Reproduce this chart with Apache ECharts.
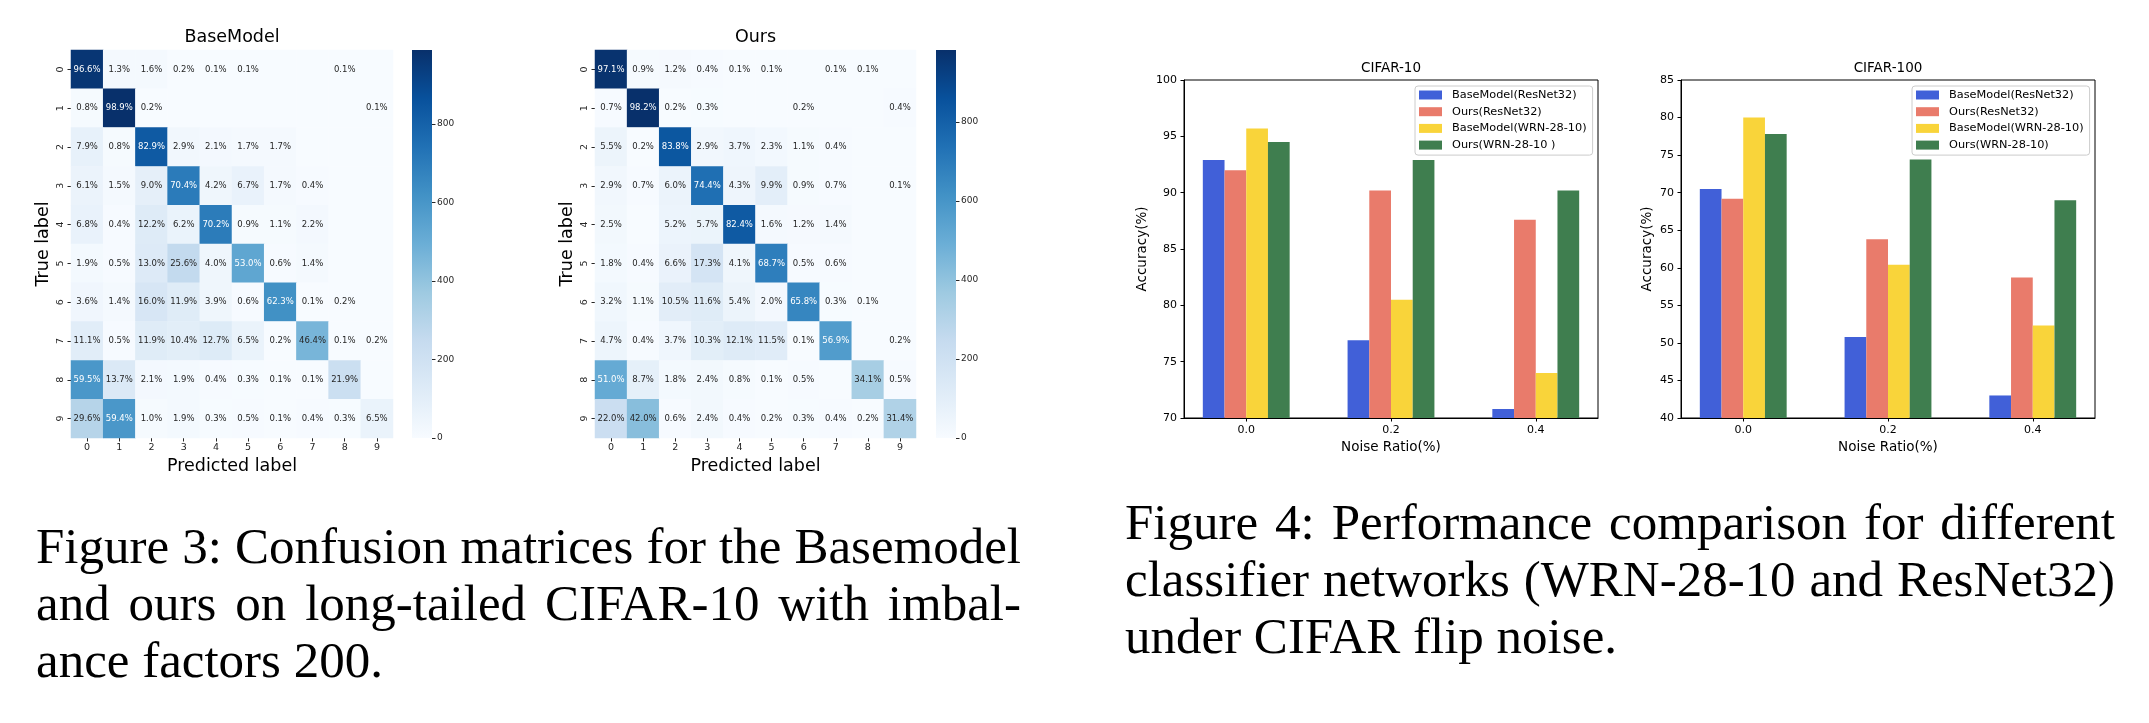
<!DOCTYPE html>
<html><head><meta charset="utf-8">
<script src="https://cdn.jsdelivr.net/npm/echarts@6/dist/echarts.min.js"></script>
<style>html,body{margin:0;padding:0;background:#fff}#c{width:2149px;height:723px}</style>
</head><body><div id="c"></div>
<script>
// ---------------- data ----------------
const classLabels = ['0','1','2','3','4','5','6','7','8','9'];
// confusion matrices (percent per true-label row); null = empty cell
const baseModelPct = [
  [96.6, 1.3, 1.6, 0.2, 0.1, 0.1, null, null, 0.1, null],
  [0.8, 98.9, 0.2, null, null, null, null, null, null, 0.1],
  [7.9, 0.8, 82.9, 2.9, 2.1, 1.7, 1.7, null, null, null],
  [6.1, 1.5, 9.0, 70.4, 4.2, 6.7, 1.7, 0.4, null, null],
  [6.8, 0.4, 12.2, 6.2, 70.2, 0.9, 1.1, 2.2, null, null],
  [1.9, 0.5, 13.0, 25.6, 4.0, 53.0, 0.6, 1.4, null, null],
  [3.6, 1.4, 16.0, 11.9, 3.9, 0.6, 62.3, 0.1, 0.2, null],
  [11.1, 0.5, 11.9, 10.4, 12.7, 6.5, 0.2, 46.4, 0.1, 0.2],
  [59.5, 13.7, 2.1, 1.9, 0.4, 0.3, 0.1, 0.1, 21.9, null],
  [29.6, 59.4, 1.0, 1.9, 0.3, 0.5, 0.1, 0.4, 0.3, 6.5]
];
const oursPct = [
  [97.1, 0.9, 1.2, 0.4, 0.1, 0.1, null, 0.1, 0.1, null],
  [0.7, 98.2, 0.2, 0.3, null, null, 0.2, null, null, 0.4],
  [5.5, 0.2, 83.8, 2.9, 3.7, 2.3, 1.1, 0.4, null, null],
  [2.9, 0.7, 6.0, 74.4, 4.3, 9.9, 0.9, 0.7, null, 0.1],
  [2.5, null, 5.2, 5.7, 82.4, 1.6, 1.2, 1.4, null, null],
  [1.8, 0.4, 6.6, 17.3, 4.1, 68.7, 0.5, 0.6, null, null],
  [3.2, 1.1, 10.5, 11.6, 5.4, 2.0, 65.8, 0.3, 0.1, null],
  [4.7, 0.4, 3.7, 10.3, 12.1, 11.5, 0.1, 56.9, null, 0.2],
  [51.0, 8.7, 1.8, 2.4, 0.8, 0.1, 0.5, null, 34.1, 0.5],
  [22.0, 42.0, 0.6, 2.4, 0.4, 0.2, 0.3, 0.4, 0.2, 31.4]
];
const samplesPerClass = 1000;
const colorbarTicks = [0, 200, 400, 600, 800];

const noiseRatios = [0.0, 0.2, 0.4];
const cifar10Names = ['BaseModel(ResNet32)', 'Ours(ResNet32)', 'BaseModel(WRN-28-10)', 'Ours(WRN-28-10 )'];
const cifar100Names = ['BaseModel(ResNet32)', 'Ours(ResNet32)', 'BaseModel(WRN-28-10)', 'Ours(WRN-28-10)'];
const cifar10BaseResNet = [92.9, 76.9, 70.8];
const cifar10OursResNet = [92.0, 90.2, 87.6];
const cifar10BaseWRN = [95.7, 80.5, 74.0];
const cifar10OursWRN = [94.5, 92.9, 90.2];
const cifar100BaseResNet = [70.5, 50.8, 43.0];
const cifar100OursResNet = [69.2, 63.8, 58.7];
const cifar100BaseWRN = [80.0, 60.4, 52.3];
const cifar100OursWRN = [77.8, 74.4, 69.0];

const caption3Lines = ['Figure 3: Confusion matrices for the Basemodel', 'and ours on long-tailed CIFAR-10 with imbal-', 'ance factors 200.'];
const caption4Lines = ['Figure 4: Performance comparison for different', 'classifier networks (WRN-28-10 and ResNet32)', 'under CIFAR flip noise.'];

// ---------------- styles ----------------
const FONT = 'DejaVu Sans';
const SERIF = 'Liberation Serif';
const blues = ['#f7fbff','#deebf7','#c6dbef','#9ecae1','#6baed6','#4292c6','#2171b5','#08519c','#08306b'];
const barColors = ['#4160d8', '#e97b6b', '#f9d43a', '#3f7e4f'];

function hex2rgb(h){ return [1,3,5].map(i => parseInt(h.substr(i,2),16)); }
function cmap(t){
  t = Math.max(0, Math.min(1, t));
  const s = t * (blues.length - 1);
  const i = Math.min(Math.floor(s), blues.length - 2);
  const f = s - i;
  const a = hex2rgb(blues[i]), b = hex2rgb(blues[i+1]);
  return a.map((v,k) => v + (b[k]-v)*f);
}
function lum(rgb){
  const c = rgb.map(v => { v /= 255; return v <= 0.03928 ? v/12.92 : Math.pow((v+0.055)/1.055, 2.4); });
  return 0.2126*c[0] + 0.7152*c[1] + 0.0722*c[2];
}
function counts(pct){ return pct.map(row => row.map(p => p == null ? 0 : Math.round(p * samplesPerClass / 100))); }
function heatData(pct){
  const cnt = counts(pct);
  const vmax = Math.max(...cnt.flat());
  const out = [];
  cnt.forEach((row, r) => row.forEach((v, c) => {
    const l = lum(cmap(v / vmax));
    out.push({ value: [c, r, v], label: { color: l < 0.408 ? '#ffffff' : '#262626' } });
  }));
  return { data: out, vmax };
}
const heatBase = heatData(baseModelPct);
const heatOurs = heatData(oursPct);

const heatGrids = [
  { left: 71, top: 50, width: 322, height: 388 },
  { left: 595, top: 50, width: 321, height: 388 }
];
const cbarGrids = [
  { left: 412, top: 50, width: 20, height: 388 },
  { left: 936, top: 50, width: 20, height: 388 }
];
const barGrids = [
  { left: 1184, top: 80, width: 414, height: 338 },
  { left: 1681, top: 80, width: 414, height: 338 }
];
const X_MIN = -0.086, X_MAX = 0.486, BAR_UNIT = 0.03;

const grids = [];
const xAxes = [];
const yAxes = [];
const series = [];
const visualMaps = [];
const titles = [];

function addHeat(idx, pct, heat, title){
  const gH = grids.length; grids.push(Object.assign({}, heatGrids[idx]));
  const gC = grids.length; grids.push(Object.assign({}, cbarGrids[idx]));
  const xa = xAxes.length;
  xAxes.push({
    gridIndex: gH, type: 'category', data: classLabels, position: 'bottom',
    axisLine: { show: false, onZero: false },
    axisTick: { show: true, alignWithLabel: true, length: 3.5, lineStyle: { color: '#262626', width: 1 } },
    axisLabel: { fontSize: 9.5, color: '#262626', margin: 5, fontFamily: FONT },
    splitLine: { show: false },
    name: 'Predicted label', nameLocation: 'middle', nameGap: 16,
    nameTextStyle: { fontSize: 17.5, color: '#000', fontFamily: FONT }
  });
  const xc = xAxes.length;
  xAxes.push({ gridIndex: gC, type: 'value', show: false, min: 0, max: 1,
    axisLine: { show: false }, axisTick: { show: false }, axisLabel: { show: false }, splitLine: { show: false } });
  const ya = yAxes.length;
  yAxes.push({
    gridIndex: gH, type: 'category', data: classLabels, inverse: true,
    axisLine: { show: false, onZero: false },
    axisTick: { show: true, alignWithLabel: true, length: 3.5, lineStyle: { color: '#262626', width: 1 } },
    axisLabel: { fontSize: 9.5, color: '#262626', margin: 5, rotate: 90, fontFamily: FONT },
    splitLine: { show: false },
    name: 'True label', nameLocation: 'middle', nameGap: 19, nameRotate: 90,
    nameTextStyle: { fontSize: 17.5, color: '#000', fontFamily: FONT }
  });
  const yc = yAxes.length;
  yAxes.push({
    gridIndex: gC, type: 'value', position: 'right', min: 0, max: heat.vmax,
    axisLine: { show: false, onZero: false },
    axisTick: { show: true, inside: false, length: 3.5, customValues: colorbarTicks, lineStyle: { color: '#262626', width: 1 } },
    axisLabel: { show: true, customValues: colorbarTicks, fontSize: 9, color: '#262626', margin: 5, fontFamily: FONT },
    splitLine: { show: false }
  });
  const sIdx = series.length;
  series.push({
    type: 'heatmap', xAxisIndex: xa, yAxisIndex: ya, data: heat.data,
    itemStyle: { borderWidth: 0 },
    label: {
      show: true, fontSize: 8.5, fontFamily: FONT,
      formatter: p => { const v = pct[p.value[1]][p.value[0]]; return v == null ? '' : v.toFixed(1) + '%'; }
    },
    emphasis: { disabled: true }
  });
  visualMaps.push({
    type: 'continuous', seriesIndex: sIdx, min: 0, max: heat.vmax, inRange: { color: blues }, show: false
  });
  // colorbar: one gradient rect spanning the colorbar axis range (0..vmax)
  series.push({
    type: 'custom', xAxisIndex: xc, yAxisIndex: yc, silent: true,
    data: [[0, 0]],
    renderItem: (params, api) => {
      const p0 = api.coord([0, 0]);
      const p1 = api.coord([1, heat.vmax]);
      return {
        type: 'rect',
        shape: { x: p0[0], y: p1[1], width: p1[0] - p0[0], height: p0[1] - p1[1] },
        style: { fill: new echarts.graphic.LinearGradient(0, 1, 0, 0, blues.map((c, i) => ({ offset: i / (blues.length - 1), color: c }))) }
      };
    }
  });
  titles.push({
    text: title, left: heatGrids[idx].left + heatGrids[idx].width / 2, top: 28, textAlign: 'center', padding: 0,
    textStyle: { fontSize: 17.5, fontWeight: 'normal', color: '#000', fontFamily: FONT }
  });
}
addHeat(0, baseModelPct, heatBase, 'BaseModel');
addHeat(1, oursPct, heatOurs, 'Ours');

function addBars(idx, title, names, valueSets, yMin, yMax, yNameGap){
  const g = grids.length;
  grids.push(Object.assign({ show: true, borderColor: '#000', borderWidth: 1, backgroundColor: 'transparent' }, barGrids[idx]));
  const xa = xAxes.length;
  xAxes.push({
    gridIndex: g, type: 'value', min: X_MIN, max: X_MAX,
    axisLine: { show: true, onZero: false, lineStyle: { color: '#000', width: 1 } },
    axisTick: { show: true, inside: false, length: 3.5, customValues: noiseRatios, lineStyle: { color: '#000' } },
    axisLabel: { show: true, customValues: noiseRatios, formatter: v => v.toFixed(1), fontSize: 11, color: '#000', margin: 7, fontFamily: FONT },
    splitLine: { show: false },
    name: 'Noise Ratio(%)', nameLocation: 'middle', nameGap: 22,
    nameTextStyle: { fontSize: 13.5, color: '#000', fontFamily: FONT }
  });
  const ya = yAxes.length;
  yAxes.push({
    gridIndex: g, type: 'value', min: yMin, max: yMax, interval: 5,
    axisLine: { show: true, onZero: false, lineStyle: { color: '#000', width: 1 } },
    axisTick: { show: true, inside: false, length: 3.5, lineStyle: { color: '#000' } },
    axisLabel: { fontSize: 11, color: '#000', margin: 7, fontFamily: FONT },
    splitLine: { show: false },
    name: 'Accuracy(%)', nameLocation: 'middle', nameGap: yNameGap, nameRotate: 90,
    nameTextStyle: { fontSize: 13.5, color: '#000', fontFamily: FONT }
  });
  const pxPerUnit = barGrids[idx].width / (X_MAX - X_MIN);
  valueSets.forEach((vals, i) => {
    series.push({
      type: 'bar', name: names[i], xAxisIndex: xa, yAxisIndex: ya,
      data: noiseRatios.map((x, j) => [x + (i - 1.5) * BAR_UNIT, vals[j]]),
      barWidth: BAR_UNIT * pxPerUnit, barGap: '-100%', clip: true,
      itemStyle: { color: barColors[i] },
      emphasis: { disabled: true }
    });
  });
  titles.push({
    text: title, left: barGrids[idx].left + barGrids[idx].width / 2, top: 61, textAlign: 'center', padding: 0,
    textStyle: { fontSize: 13.5, fontWeight: 'normal', color: '#000', fontFamily: FONT }
  });
}
addBars(0, 'CIFAR-10', cifar10Names, [cifar10BaseResNet, cifar10OursResNet, cifar10BaseWRN, cifar10OursWRN], 70, 100, 35);
addBars(1, 'CIFAR-100', cifar100Names, [cifar100BaseResNet, cifar100OursResNet, cifar100BaseWRN, cifar100OursWRN], 40, 85, 27);

function legendFor(names, left){
  return {
    data: names, left: left, top: 86, orient: 'vertical', icon: 'rect',
    itemWidth: 23, itemHeight: 9, itemGap: 4.7, selectedMode: false,
    textStyle: { fontSize: 11.3, color: '#000', lineHeight: 12, fontFamily: FONT, padding: [0, 0, 0, 5] },
    borderColor: '#cccccc', borderWidth: 1, borderRadius: 3, padding: [3, 6, 4, 4],
    backgroundColor: 'rgba(255,255,255,0.8)'
  };
}

// ---- justified captions (LaTeX-style: all lines but the last are stretched to the column width) ----
const CAP_SIZE = 51, CAP_LH = 57;
const measureCtx = document.createElement('canvas').getContext('2d');
measureCtx.font = CAP_SIZE + 'px "' + SERIF + '"';
function justifiedCaption(lines, left, top, width, key){
  const rich = {};
  const parts = lines.map((line, li) => {
    if (li === lines.length - 1) return line;
    const words = line.split(' ');
    const wordsW = words.reduce((s, w) => s + measureCtx.measureText(w).width, 0);
    const gap = (width - wordsW) / (words.length - 1);
    const tok = key + li;
    rich[tok] = { width: gap, fontSize: CAP_SIZE, lineHeight: CAP_LH, fontFamily: SERIF };
    return words.join('{' + tok + '| }');
  });
  return {
    text: parts.join('\n'), left: left, top: top, padding: 0,
    textStyle: { fontSize: CAP_SIZE, lineHeight: CAP_LH, fontWeight: 'normal', color: '#000', fontFamily: SERIF, rich: rich }
  };
}
titles.push(justifiedCaption(caption3Lines, 36, 521, 985, 'a'));
titles.push(justifiedCaption(caption4Lines, 1125, 497, 990, 'b'));

const chart = echarts.init(document.getElementById('c'), null, { renderer: 'canvas' });
chart.setOption({
  animation: false,
  backgroundColor: '#ffffff',
  textStyle: { fontFamily: FONT },
  title: titles,
  grid: grids,
  xAxis: xAxes,
  yAxis: yAxes,
  visualMap: visualMaps,
  legend: [legendFor(cifar10Names, 1415), legendFor(cifar100Names, 1912)],
  series: series
});
</script>
</body></html>
